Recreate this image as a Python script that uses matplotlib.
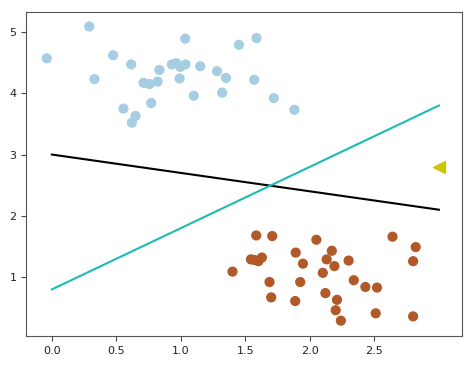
import numpy as np
import matplotlib
matplotlib.use("Agg")
import matplotlib.pyplot as plt

# class 0 (light blue) points
x0 = [-0.04, 0.29, 0.33, 0.475, 0.615, 0.555, 0.648, 0.62, 0.71, 0.757, 0.82,
      0.77, 0.834, 0.93, 0.964, 0.995, 1.036, 1.033, 0.99, 1.10, 1.15, 1.28,
      1.35, 1.32, 1.45, 1.586, 1.568, 1.72, 1.88]
y0 = [4.57, 5.09, 4.23, 4.62, 4.47, 3.75, 3.63, 3.52, 4.17, 4.15, 4.19,
      3.84, 4.38, 4.47, 4.49, 4.43, 4.47, 4.89, 4.24, 3.96, 4.44, 4.36,
      4.25, 4.01, 4.79, 4.90, 4.22, 3.92, 3.73]

# class 1 (brown) points
x1 = [1.40, 1.584, 1.708, 1.543, 1.57, 1.60, 1.628, 1.687, 1.70, 1.89, 1.946,
      1.925, 1.886, 2.05, 2.17, 2.13, 2.19, 2.10, 2.12, 2.21, 2.20, 2.24,
      2.30, 2.34, 2.43, 2.52, 2.51, 2.64, 2.82, 2.80, 2.80]
y1 = [1.09, 1.68, 1.67, 1.29, 1.28, 1.26, 1.32, 0.92, 0.67, 1.40, 1.22,
      0.92, 0.61, 1.61, 1.43, 1.29, 1.18, 1.07, 0.74, 0.63, 0.46, 0.29,
      1.27, 0.95, 0.84, 0.83, 0.41, 1.66, 1.49, 1.26, 0.36]

# new point and two candidate separating lines
new_pt = (3.0, 2.8)
xfit = [0.0, 3.0]
lines = [(-0.3, 3.0, 'k'), (1.0, 0.8, 'c')]  # slope, intercept, colour

X = np.array(x0 + x1)
Y = np.array(y0 + y1)
labels = np.array([0] * len(x0) + [1] * len(x1))

fig = plt.figure(figsize=(4.74, 3.66), dpi=100)
ax = fig.add_axes([0.055, 0.082, 0.92, 0.886])

ax.scatter(X, Y, c=labels, s=40, cmap='Paired')
ax.plot(new_pt[0], new_pt[1], '<', color='#c8c800', markersize=9)
for m, b, col in lines:
    xx = np.array(xfit)
    ax.plot(xx, m * xx + b, '-', color=col if col == 'k' else '#1cbcb4', linewidth=1.5)

ax.set_xlim(-0.2, 3.18)
ax.set_ylim(0.04, 5.33)
ax.set_xticks([0.0, 0.5, 1.0, 1.5, 2.0, 2.5])
ax.set_yticks([1, 2, 3, 4, 5])
ax.tick_params(labelsize=8, color='#444444', labelcolor='#222222')
for s in ax.spines.values():
    s.set_color('#555555')

fig.savefig("out.png")
